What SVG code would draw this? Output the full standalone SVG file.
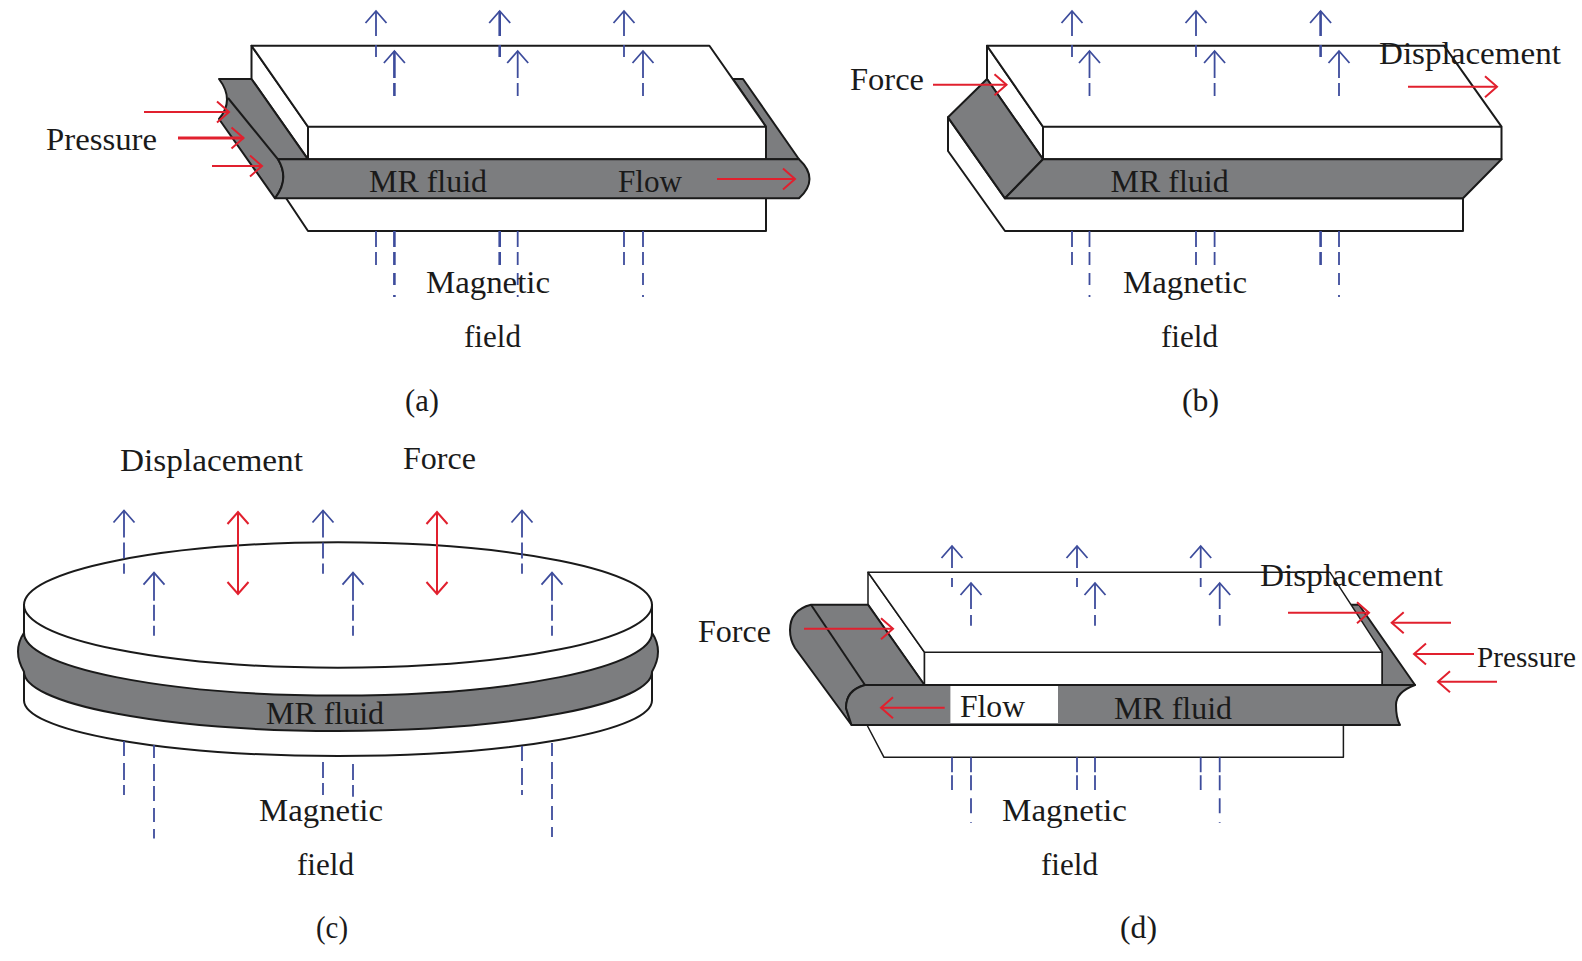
<svg xmlns="http://www.w3.org/2000/svg" width="1582" height="961" viewBox="0 0 1582 961">
<style>
.s{fill:#fff;stroke:#1a1a1a;stroke-width:2;stroke-linejoin:round}
.thin{stroke-width:1.5}
.f{fill:#7c7d7f;stroke:#1a1a1a;stroke-width:2;stroke-linejoin:round}
.b{fill:none;stroke:#3d4c9c;stroke-width:1.8}
.th{stroke-width:2.6}
.up{marker-start:url(#bh)}
.r1{stroke-dasharray:25 9 12}
.r2{stroke-dasharray:27 5 13}
.d1{stroke-dasharray:16 5 13}
.d2{stroke-dasharray:16 5 13 8 12 10 2}
.cu1{stroke-dasharray:27 5 16 5 14}
.cu2{stroke-dasharray:28 4 16 5 10}
.cd1{stroke-dasharray:15 7 17 5 10}
.cd2{stroke-dasharray:13 6 17 5 15 7 14 7 10}
.du1{stroke-dasharray:22 10 9}
.du2{stroke-dasharray:26 6 11}
.dd1{stroke-dasharray:15 3 15}
.dd2{stroke-dasharray:15 3 15 8 15 9 1}
.r{fill:none;stroke:#e1202e;stroke-width:2;marker-end:url(#rh)}
.rr{fill:none;stroke:#e1202e;stroke-width:2;marker-end:url(#rh);marker-start:url(#rh)}
text{font-family:"Liberation Serif","Times New Roman",serif;font-size:32px;fill:#1a1a1a}
</style>
<defs>
<marker id="bh" markerUnits="userSpaceOnUse" markerWidth="30" markerHeight="30" viewBox="-15 -15 30 30" refX="0" refY="0" orient="auto-start-reverse"><path d="M-12,-10.5L0,0L-12,10.5" fill="none" stroke="#3d4c9c" stroke-width="1.8"/></marker>
<marker id="rh" markerUnits="userSpaceOnUse" markerWidth="30" markerHeight="30" viewBox="-15 -15 30 30" refX="0" refY="0" orient="auto-start-reverse"><path d="M-12,-10.5L0,0L-12,10.5" fill="none" stroke="#e1202e" stroke-width="2"/></marker>
</defs>

<g id="a-lower-plate"><path class="s" d="M286,198L308,231H766V198Z"/></g>
<g id="a-upper-plate">
<path class="f" d="M733,79H743L799,159.3H766V126.7Z"/>
<path class="s" d="M251.5,45.7L308,126.7V159.3L251.5,79Z"/>
<path class="s" d="M251.5,45.7H709.4L766,126.7H308ZM308,126.7H766V159.3H308Z"/>
</g>
<g id="a-mr-fluid">
<path class="f" d="M219,79H251.5L308,159.3H278Q290,179 275,198.3L219,119Q235,100 219,79Z"/>
<path class="f" fill="none" d="M228,98L278,159.3"/>
<path class="f" d="M278,159.3H799Q820,179 799,198.3H275Q290,179 278,159.3Z"/>
</g>

<g id="b-lower-plate"><path class="s" d="M948,117.3V151L1005,231H1463V198.3H1005Z"/></g>
<g id="b-upper-plate">
<path class="s" d="M987,45.7L1043,126.7V159.3L987,79Z"/>
<path class="s" d="M987,45.7H1444L1501.5,126.7H1043ZM1043,126.7H1501.5V159.3H1043Z"/>
</g>
<g id="b-mr-fluid">
<path class="f" d="M987,79L948,117.3L1005,198.3L1043,159.3Z"/>
<path class="f" d="M1043,159.3H1501.5L1463,198.3H1005Z"/>
</g>

<g id="c-lower-plate"><path class="s" d="M24,660V700.4A314 55.6 0 0 0 652,700.4V660Z"/></g>
<g id="c-mr-fluid"><path class="f" d="M24,632.8A314 60.2 0 0 0 652,632.8Q664,651 652,671.7A314 59.2 0 0 1 24,671.7Q12,651 24,632.8Z"/></g>
<g id="c-upper-plate">
<path class="s" d="M24,605V632.8A314 62.7 0 0 0 652,632.8V605Z"/>
<ellipse class="s" cx="338" cy="605" rx="314" ry="62.7"/>
</g>

<g id="d-lower-plate"><path class="s thin" d="M867,725L884,757.3H1343.4V725Z"/></g>
<g id="d-upper-plate">
<path class="f" d="M1348.6,604.7H1359L1415,685H1382V652.3Z"/>
<path class="s thin" d="M868,572.3L924.5,652.3V685L868,604.7Z"/>
<path class="s thin" d="M868,572.3H1330L1382,652.3H924.5ZM924.5,652.3H1382V685H924.5Z"/>
</g>
<g id="d-mr-fluid">
<path class="f" d="M811,604.7H868L924.5,685H865Q846,690 846,708L851.5,725L795,648Q790,640 790,630Q790,610 811,604.7Z"/>
<path class="f" d="M811,604.7L865,685"/>
<path class="f" d="M865,685H1415Q1396,692 1396,705Q1396,718 1400,725H851.5L846,708Q846,690 865,685Z"/>
<rect x="950.4" y="686" width="107.6" height="37" fill="#fff"/>
</g>

<g id="connectors">
<g id="a-field">
<path class="b up r1" d="M376,11V57"/><path class="b th up r1" d="M499.7,11V57"/><path class="b up r1" d="M624,11V57"/>
<path class="b th up r2" d="M394.4,51V96"/><path class="b up r2" d="M517.7,51V96"/><path class="b up r2" d="M643,51V96"/>
<path class="b d1" d="M376,231V265"/><path class="b th d1" d="M499.7,231V265"/><path class="b d1" d="M624,231V265"/>
<path class="b th d2" d="M394.4,231V297"/><path class="b d2" d="M517.7,231V297"/><path class="b d2" d="M643,231V297"/>
</g>
<g id="a-forces">
<path class="r" d="M144,112H229"/><path class="r" style="stroke-width:3" d="M178,138H243.5"/><path class="r" d="M212,166H262"/><path class="r" d="M717,179H795"/>
</g>
<g id="b-field">
<path class="b up r1" d="M1072,11V57"/><path class="b up r1" d="M1196,11V57"/><path class="b th up r1" d="M1320.6,11V57"/>
<path class="b up r2" d="M1089.5,51V96"/><path class="b up r2" d="M1214.6,51V96"/><path class="b up r2" d="M1339,51V96"/>
<path class="b d1" d="M1072,231V265"/><path class="b d1" d="M1196,231V265"/><path class="b th d1" d="M1320.6,231V265"/>
<path class="b d2" d="M1089.5,231V297"/><path class="b d1" d="M1214.6,231V265"/><path class="b d2" d="M1339,231V297"/>
</g>
<g id="b-forces"><path class="r" d="M933,84.7H1006.5"/><path class="r" d="M1408,86.7H1497"/></g>
<g id="c-field">
<path class="b up cu1" d="M124,510.5V573.7"/><path class="b up cu1" d="M323,510.5V573.7"/><path class="b up cu1" d="M522,510.5V573.7"/>
<path class="b up cu2" d="M154,572.7V636.2"/><path class="b up cu2" d="M353,572.7V636.2"/><path class="b up cu2" d="M552,572.7V636.2"/>
<path class="b cd1" d="M124,741V795"/><path class="b d1" d="M323,762V795"/><path class="b cd1" d="M522,746V795"/>
<path class="b cd2" d="M154,745V838.4"/><path class="b d1" d="M353,764V796.8"/><path class="b cd2" d="M552,743V838.4"/>
</g>
<g id="c-forces"><path class="rr" d="M238,512V594"/><path class="rr" d="M437,512V594"/></g>
<g id="d-field">
<path class="b up du1" d="M952,546V587"/><path class="b up du1" d="M1077,546V587"/><path class="b up du1" d="M1200.7,546V587"/>
<path class="b up du2" d="M971,583V625.7"/><path class="b up du2" d="M1095,583V625.7"/><path class="b up du2" d="M1219.7,583V625.7"/>
<path class="b dd1" d="M952,757.3V790"/><path class="b dd1" d="M1077,757.3V790"/><path class="b dd1" d="M1200.7,757.3V790"/>
<path class="b dd2" d="M971,757.3V823"/><path class="b dd1" d="M1095,757.3V790"/><path class="b dd2" d="M1219.7,757.3V823"/>
</g>
<g id="d-forces">
<path class="r" d="M804,628.7H893"/><path class="r" d="M1288,612.7H1369"/><path class="r" d="M1451,622.7H1391.7"/><path class="r" d="M1474,654H1414"/><path class="r" d="M1497,681.7H1438"/><path class="r" d="M944.7,707.7H881"/>
</g>
</g>

<g id="labels">
<text x="46" y="150" textLength="111" lengthAdjust="spacingAndGlyphs">Pressure</text>
<text x="369" y="192" textLength="118" lengthAdjust="spacingAndGlyphs">MR fluid</text>
<text x="618" y="192" textLength="64" lengthAdjust="spacingAndGlyphs">Flow</text>
<text x="426" y="293" textLength="124" lengthAdjust="spacingAndGlyphs">Magnetic</text>
<text x="464" y="347" textLength="57" lengthAdjust="spacingAndGlyphs">field</text>
<text x="405" y="411" textLength="34" lengthAdjust="spacingAndGlyphs">(a)</text>
<text x="850" y="90" textLength="74" lengthAdjust="spacingAndGlyphs">Force</text>
<text x="1379" y="64" textLength="182" lengthAdjust="spacingAndGlyphs">Displacement</text>
<text x="1110.6" y="192" textLength="118" lengthAdjust="spacingAndGlyphs">MR fluid</text>
<text x="1123" y="293" textLength="124" lengthAdjust="spacingAndGlyphs">Magnetic</text>
<text x="1161" y="347" textLength="57" lengthAdjust="spacingAndGlyphs">field</text>
<text x="1182" y="411" textLength="37" lengthAdjust="spacingAndGlyphs">(b)</text>
<text x="120" y="471" textLength="183" lengthAdjust="spacingAndGlyphs">Displacement</text>
<text x="403" y="469" textLength="73" lengthAdjust="spacingAndGlyphs">Force</text>
<text x="266" y="724" textLength="118" lengthAdjust="spacingAndGlyphs">MR fluid</text>
<text x="259" y="821" textLength="124" lengthAdjust="spacingAndGlyphs">Magnetic</text>
<text x="297" y="875" textLength="57" lengthAdjust="spacingAndGlyphs">field</text>
<text x="316" y="938" textLength="32" lengthAdjust="spacingAndGlyphs">(c)</text>
<text x="698" y="642" textLength="73" lengthAdjust="spacingAndGlyphs">Force</text>
<text x="1260" y="586" textLength="183" lengthAdjust="spacingAndGlyphs">Displacement</text>
<text x="1477" y="667" font-size="29" style="font-size:29px" textLength="99" lengthAdjust="spacingAndGlyphs">Pressure</text>
<text x="960" y="717" textLength="65" lengthAdjust="spacingAndGlyphs">Flow</text>
<text x="1114" y="719" textLength="118" lengthAdjust="spacingAndGlyphs">MR fluid</text>
<text x="1002" y="821" textLength="125" lengthAdjust="spacingAndGlyphs">Magnetic</text>
<text x="1041" y="875" textLength="57" lengthAdjust="spacingAndGlyphs">field</text>
<text x="1120" y="938" textLength="37" lengthAdjust="spacingAndGlyphs">(d)</text>
</g>
</svg>
